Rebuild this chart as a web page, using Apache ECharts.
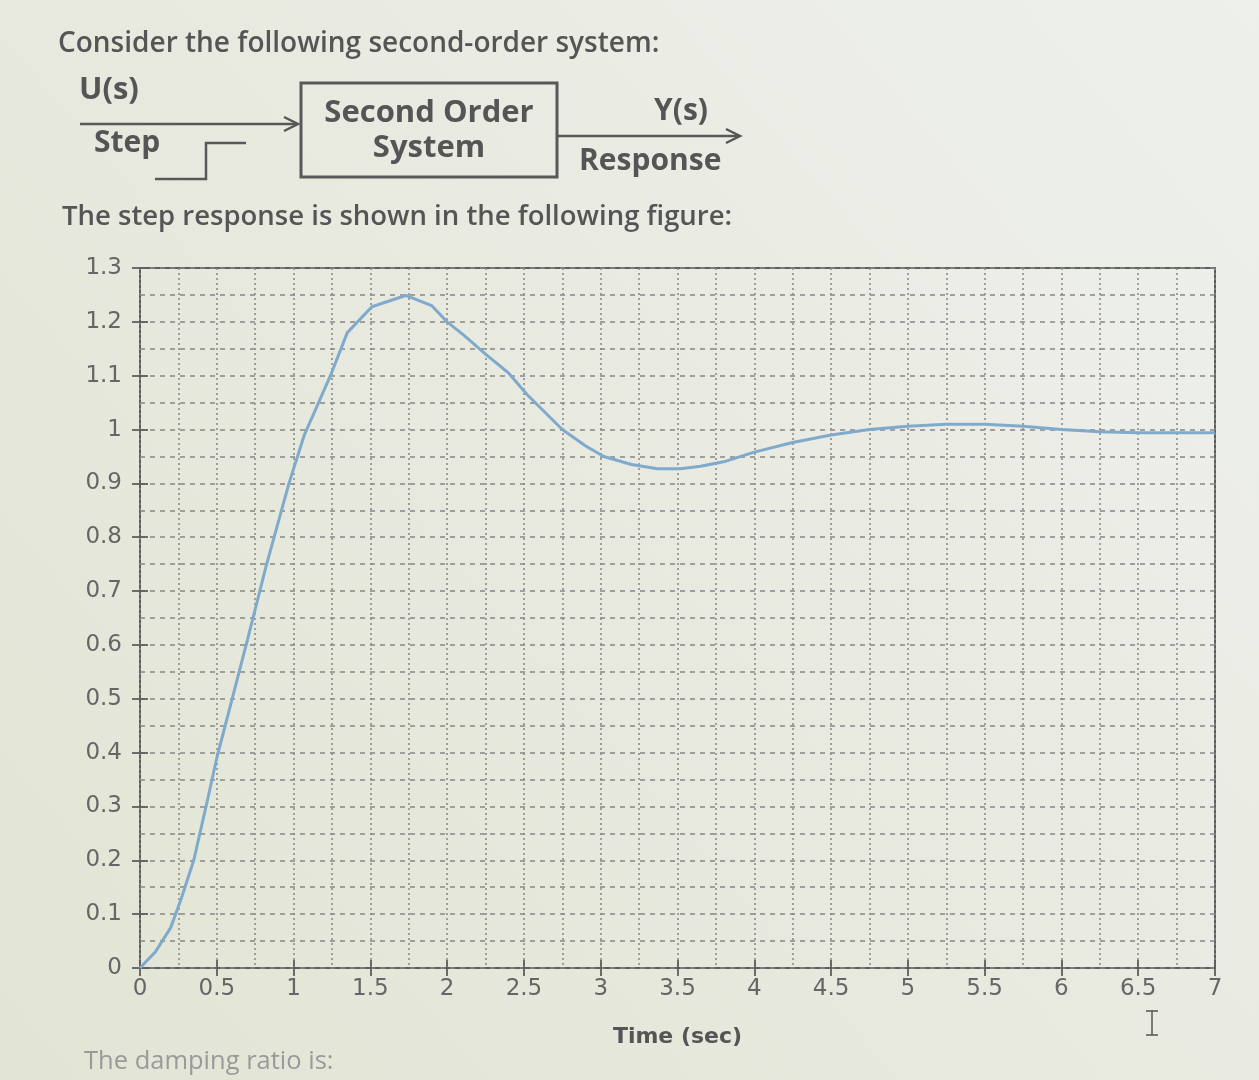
<!DOCTYPE html>
<html>
<head>
<meta charset="utf-8">
<script src="https://cdn.jsdelivr.net/npm/echarts@6/dist/echarts.min.js"></script>
<style>
html,body{margin:0;padding:0;background:#e6e8df;}
#chart{width:1259px;height:1080px;}
</style>
</head>
<body>
<div id="chart"></div>
<script>
// Step response: time (s) and output value
const timeSec = [0, 0.1, 0.2, 0.27, 0.35, 0.43, 0.5, 0.6, 0.7, 0.82, 0.97, 1.07, 1.14, 1.24, 1.35, 1.51, 1.73, 1.9, 2.0, 2.11, 2.25, 2.4, 2.52, 2.75, 2.9, 3.02, 3.2, 3.37, 3.52, 3.65, 3.8, 4.0, 4.25, 4.5, 4.75, 5.0, 5.25, 5.5, 5.75, 6.0, 6.25, 6.5, 6.75, 7.0];
const response = [0, 0.03, 0.075, 0.13, 0.2, 0.3, 0.39, 0.5, 0.61, 0.745, 0.9, 0.99, 1.035, 1.1, 1.18, 1.228, 1.249, 1.23, 1.2, 1.175, 1.14, 1.105, 1.065, 1.0, 0.97, 0.95, 0.935, 0.927, 0.927, 0.932, 0.94, 0.958, 0.976, 0.99, 1.0, 1.006, 1.01, 1.01, 1.006, 1.0, 0.996, 0.994, 0.994, 0.994];
// Axis ranges / tick spacing
const xRange = [0, 7];
const xStep = 0.5;
const yRange = [0, 1.3];
const yStep = 0.1;
// Texts
const introText = 'Consider the following second-order system:';
const figureText = 'The step response is shown in the following figure:';
const questionText = 'The damping ratio is:';
const xAxisName = 'Time (sec)';

const seriesData = timeSec.map((t, i) => [t, response[i]]);

const textCol = '#555555';
const lineCol = '#585858';
const gridCol = '#878787';
const axisCol = '#5e5e5e';
const labelFont = '"DejaVu Sans"';

const chart = echarts.init(document.getElementById('chart'));
chart.setOption({
  backgroundColor: {
    type: 'linear', x: 1, y: 0, x2: 0, y2: 1,
    colorStops: [{offset: 0, color: '#eef0ec'}, {offset: 1, color: '#e2e4d4'}]
  },
  animation: false,
  grid: {
    left: 140, top: 268, width: 1075, height: 700,
    show: true, borderColor: axisCol, borderWidth: 2, backgroundColor: 'transparent'
  },
  xAxis: [{
    type: 'value', min: xRange[0], max: xRange[1], interval: xStep,
    axisLine: {show: false},
    axisTick: {show: true, inside: true, length: 8, lineStyle: {color: axisCol, width: 1.8}},
    axisLabel: {color: '#666666', fontSize: 23, fontFamily: labelFont, margin: 10,
      formatter: v => String(v)},
    splitLine: {show: true, lineStyle: {color: gridCol, type: [2, 3], width: 1.5}},
    minorTick: {show: false, splitNumber: 2},
    minorSplitLine: {show: true, lineStyle: {color: gridCol, type: [2, 3], width: 1.5}},
    name: xAxisName, nameLocation: 'middle', nameGap: 58,
    nameTextStyle: {color: textCol, fontSize: 22, fontWeight: 'bold', fontFamily: labelFont}
  }, {
    type: 'value', position: 'top', min: xRange[0], max: xRange[1], interval: xStep,
    axisLine: {show: false},
    axisTick: {show: true, inside: true, length: 8, lineStyle: {color: axisCol, width: 1.8}},
    axisLabel: {show: false}, splitLine: {show: false}
  }],
  yAxis: [{
    type: 'value', min: yRange[0], max: yRange[1], interval: yStep,
    axisLine: {show: false},
    axisTick: {show: true, inside: true, length: 8, lineStyle: {color: axisCol, width: 1.8}},
    axisLabel: {color: '#666666', fontSize: 23, fontFamily: labelFont, margin: 18,
      formatter: v => String(Math.round(v * 10) / 10)},
    splitLine: {show: true, lineStyle: {color: gridCol, type: [5, 5], width: 1.5}},
    minorTick: {show: false, splitNumber: 2},
    minorSplitLine: {show: true, lineStyle: {color: gridCol, type: [5, 5], width: 1.5}}
  }, {
    type: 'value', position: 'right', min: yRange[0], max: yRange[1], interval: yStep,
    axisLine: {show: false},
    axisTick: {show: true, inside: true, length: 8, lineStyle: {color: axisCol, width: 1.8}},
    axisLabel: {show: false}, splitLine: {show: false}
  }],
  series: [{
    type: 'line', data: seriesData, xAxisIndex: 0, yAxisIndex: 0,
    showSymbol: false, smooth: false,
    lineStyle: {color: '#80aacb', width: 3}
  }],
  graphic: [
    {type: 'text', left: 58, top: 30, style: {text: introText, fill: textCol, font: '600 28px "Open Sans"'}},
    {type: 'text', left: 79, top: 75, style: {text: 'U(s)', fill: textCol, font: 'bold 31px "Open Sans"'}},
    {type: 'line', shape: {x1: 80, y1: 124, x2: 296, y2: 124}, style: {stroke: lineCol, lineWidth: 2.5}},
    {type: 'polyline', shape: {points: [[284, 117], [298, 124], [284, 131]]}, style: {stroke: lineCol, lineWidth: 2.5, fill: null}},
    {type: 'text', left: 94, top: 128, style: {text: 'Step', fill: textCol, font: 'bold 30px "Open Sans"'}},
    {type: 'polyline', shape: {points: [[155, 179], [206, 179], [206, 143], [246, 143]]}, style: {stroke: lineCol, lineWidth: 2.5, fill: null}},
    {type: 'rect', shape: {x: 301, y: 83, width: 256, height: 94}, style: {stroke: lineCol, lineWidth: 3, fill: null}},
    {type: 'text', x: 429, y: 113, style: {text: 'Second Order', fill: textCol, font: 'bold 31px "Open Sans"', align: 'center', verticalAlign: 'middle'}},
    {type: 'text', x: 429, y: 148, style: {text: 'System', fill: textCol, font: 'bold 31px "Open Sans"', align: 'center', verticalAlign: 'middle'}},
    {type: 'line', shape: {x1: 558, y1: 136, x2: 738, y2: 136}, style: {stroke: lineCol, lineWidth: 2.5}},
    {type: 'polyline', shape: {points: [[726, 129], [740, 136], [726, 143]]}, style: {stroke: lineCol, lineWidth: 2.5, fill: null}},
    {type: 'text', left: 654, top: 96, style: {text: 'Y(s)', fill: textCol, font: 'bold 30px "Open Sans"'}},
    {type: 'text', left: 579, top: 146, style: {text: 'Response', fill: textCol, font: 'bold 30px "Open Sans"'}},
    {type: 'text', left: 62, top: 203, style: {text: figureText, fill: textCol, font: '600 27.5px "Open Sans"'}},
    {type: 'text', left: 84, top: 1049, style: {text: questionText, fill: '#9a9a9a', font: '25.5px "Open Sans"'}},
    {type: 'polyline', shape: {points: [[1146, 1011], [1158, 1011]]}, style: {stroke: '#555', lineWidth: 1.5}},
    {type: 'polyline', shape: {points: [[1146, 1035], [1158, 1035]]}, style: {stroke: '#555', lineWidth: 1.5}},
    {type: 'line', shape: {x1: 1152, y1: 1011, x2: 1152, y2: 1035}, style: {stroke: '#555', lineWidth: 1.5}}
  ]
});
</script>
</body>
</html>
